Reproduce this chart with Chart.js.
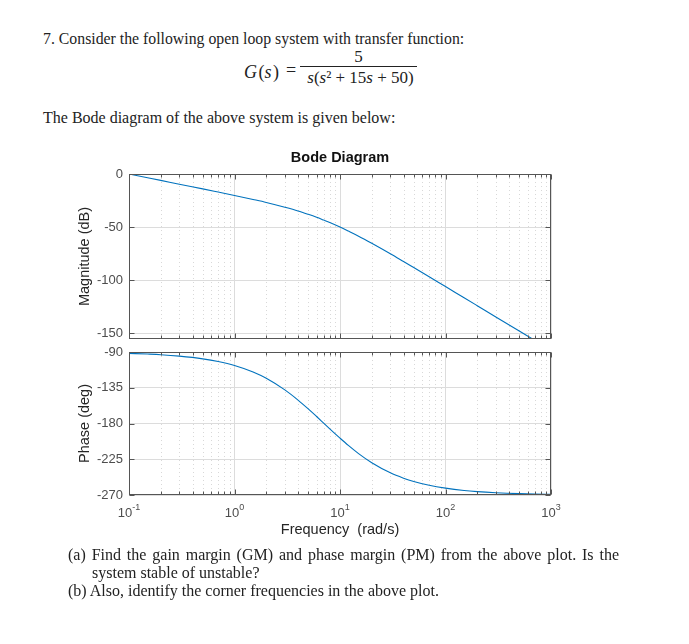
<!DOCTYPE html>
<html>
<head>
<meta charset="utf-8">
<script src="https://cdn.jsdelivr.net/npm/chart.js@4.4.1/dist/chart.umd.min.js"></script>
<style>
  html,body{margin:0;padding:0;background:#fff;}
  body{width:689px;height:644px;position:relative;overflow:hidden;font-family:'Liberation Serif',serif;color:#222;}
  .t{position:absolute;font-size:16px;line-height:18px;white-space:nowrap;}
  .m{position:absolute;font-family:'Liberation Serif',serif;font-size:17px;line-height:18px;white-space:nowrap;}
  canvas{position:absolute;left:0;}
</style>
</head>
<body>
<div class="t" style="left:43px;top:30px;font-size:15.8px">7. Consider the following open loop system with transfer function:</div>
<div class="m" style="left:244px;top:63px;font-size:18px"><i>G</i>&#8202;(<i>s</i>&#8202;)</div>
<div class="m" style="left:286px;top:61px;font-size:18px">=</div>
<div class="m" style="left:300px;width:117px;top:48px;text-align:center">5</div>
<div style="position:absolute;left:300px;width:117px;top:66px;height:1px;background:#222"></div>
<div class="m" style="left:302px;width:117px;top:69px;text-align:center"><i>s</i>(<i>s</i>² + 15<i>s</i> + 50)</div>
<div class="t" style="left:43px;top:109px">The Bode diagram of the above system is given below:</div>

<canvas id="magChart" width="600" height="205" style="top:140px"></canvas>
<canvas id="phaseChart" width="600" height="200" style="top:340px"></canvas>

<div class="t" style="left:68px;width:551px;top:546px;text-align:justify;text-align-last:justify;white-space:normal">(a) Find the gain margin (GM) and phase margin (PM) from the above plot. Is the</div>
<div class="t" style="left:92px;top:564px">system stable of unstable?</div>
<div class="t" style="left:68px;top:582px">(b) Also, identify the corner frequencies in the above plot.</div>

<script>
// values
const freq     = [0.1,0.15,0.2,0.3,0.5,0.7,1,1.5,2,3,4,5,6,7,8,10,12,15,20,30,40,50,70,100,150,200,300,500,700,1000];
const magDb    = [0.0,-3.5,-6.0,-9.6,-14.0,-17.0,-20.2,-24.0,-26.8,-31.3,-34.8,-38.0,-40.8,-43.4,-45.7,-50.0,-53.8,-58.6,-65.3,-75.2,-82.5,-88.2,-96.8,-106.1,-116.6,-124.1,-134.7,-148.0,-156.7,-166.0];
const phaseDeg = [-91.7,-92.6,-93.4,-95.2,-98.6,-102.0,-107.0,-115.2,-123.1,-137.7,-150.5,-161.6,-171.2,-179.5,-186.7,-198.4,-207.6,-217.9,-229.4,-242.1,-248.8,-253.0,-257.8,-261.4,-264.3,-265.7,-267.1,-268.3,-268.8,-269.1];

const xMajor     = [0.1,1,10,100,1000];
const xMinorMult = [2,3,4,5,6,7,8,9];
const magTicks   = [0,-50,-100,-150];
const phaseTicks = [-90,-135,-180,-225,-270];

const LINE = '#0072BD', GRID = '#dcdcdc', MINOR = '#d8d8d8', AXIS = '#555555', LABEL = '#4d4d4d', TITLE = '#262626';
const SANS = "'Liberation Sans', Arial, sans-serif";

function minorValues(){
  const out=[];
  for(let i=0;i<xMajor.length-1;i++) xMinorMult.forEach(m=>out.push(xMajor[i]*m));
  return out;
}

// MATLAB-ish box: dotted minor grid, inner ticks, frame, superscript x labels
const matlabBox = {
  id:'matlabBox',
  beforeDatasetsDraw(chart){
    const {ctx,chartArea:a,scales:{x}} = chart;
    ctx.save();
    ctx.strokeStyle=MINOR; ctx.lineWidth=1; ctx.setLineDash([1,3]);
    minorValues().forEach(v=>{
      const px=Math.round(x.getPixelForValue(v))+0.5;
      ctx.beginPath(); ctx.moveTo(px,a.top); ctx.lineTo(px,a.bottom); ctx.stroke();
    });
    ctx.restore();
  },
  afterDraw(chart,args,opts){
    const {ctx,chartArea:a,scales:{x,y}} = chart;
    const L=Math.round(a.left)+0.5, R=Math.round(a.right)-0.5, T=Math.round(a.top)+0.5, B=Math.round(a.bottom)-0.5;
    ctx.save();
    ctx.strokeStyle=AXIS; ctx.lineWidth=1;
    ctx.beginPath();
    opts.yTicks.forEach(v=>{
      const py=Math.round(y.getPixelForValue(v))+0.5;
      ctx.moveTo(L,py); ctx.lineTo(L+5,py);
      ctx.moveTo(R,py); ctx.lineTo(R-5,py);
    });
    xMajor.forEach(v=>{
      const px=Math.round(x.getPixelForValue(v))+0.5;
      ctx.moveTo(px,B); ctx.lineTo(px,B-5);
      ctx.moveTo(px,T); ctx.lineTo(px,T+5);
    });
    minorValues().forEach(v=>{
      const px=Math.round(x.getPixelForValue(v))+0.5;
      ctx.moveTo(px,B); ctx.lineTo(px,B-3);
      ctx.moveTo(px,T); ctx.lineTo(px,T+3);
    });
    ctx.stroke();
    ctx.strokeRect(L,T,R-L,B-T);
    if(opts.xLabels){
      ctx.fillStyle=LABEL; ctx.textBaseline='alphabetic'; ctx.textAlign='left';
      xMajor.forEach(v=>{
        const px=x.getPixelForValue(v);
        const ex=String(Math.round(Math.log10(v)));
        ctx.font='13px '+SANS; const w1=ctx.measureText('10').width;
        ctx.font='9px '+SANS; const w2=ctx.measureText(ex).width;
        const s=px-(w1+w2)/2;
        ctx.font='13px '+SANS; ctx.fillText('10',s,a.bottom+22);
        ctx.font='9px '+SANS; ctx.fillText(ex,s+w1,a.bottom+15);
      });
    }
    ctx.restore();
  }
};

function makeChart(id,values,yMin,yMax,yTicks,yTitle,isBottom){
  return new Chart(document.getElementById(id),{
    type:'line',
    data:{datasets:[{data:freq.map((f,i)=>({x:f,y:values[i]})),borderColor:LINE,borderWidth:1.1,pointRadius:0,fill:false,cubicInterpolationMode:'monotone'}]},
    options:{
      responsive:false,animation:false,events:[],
      layout:{padding:{left:70,right:49,top:isBottom?12:0,bottom:isBottom?1.6:6}},
      plugins:{
        legend:{display:false},tooltip:{enabled:false},
        title:{display:!isBottom,text:'Bode Diagram',fullSize:false,color:'#111',font:{family:SANS,size:14.5,weight:'bold'},padding:{top:9.5,bottom:7.1}},
        matlabBox:{yTicks,xLabels:isBottom}
      },
      scales:{
        x:{type:'logarithmic',min:0.1,max:1000,
          afterBuildTicks:s=>{s.ticks=xMajor.map(v=>({value:v}));},
          afterFit:s=>{s.paddingLeft=0;s.paddingRight=0;},
          ticks:{display:false},
          grid:{color:GRID,lineWidth:1,drawTicks:false},
          border:{display:false},
          title:{display:isBottom,text:'Frequency  (rad/s)',color:TITLE,font:{family:SANS,size:14.5},padding:{top:26,bottom:0}}
        },
        y:{min:yMin,max:yMax,
          afterBuildTicks:s=>{s.ticks=yTicks.map(v=>({value:v}));},
          afterFit:s=>{s.width=59;s.paddingTop=0;s.paddingBottom=0;},
          ticks:{color:LABEL,font:{family:SANS,size:13},padding:6},
          grid:{color:GRID,lineWidth:1,drawTicks:false},
          border:{display:false},
          title:{display:true,text:yTitle,color:TITLE,font:{family:SANS,size:14.5},padding:{top:6,bottom:0}}
        }
      }
    },
    plugins:[matlabBox]
  });
}

makeChart('magChart',magDb,-155.5,0,magTicks,'Magnitude (dB)',false);
makeChart('phaseChart',phaseDeg,-270,-90,phaseTicks,'Phase (deg)',true);
</script>
</body>
</html>
